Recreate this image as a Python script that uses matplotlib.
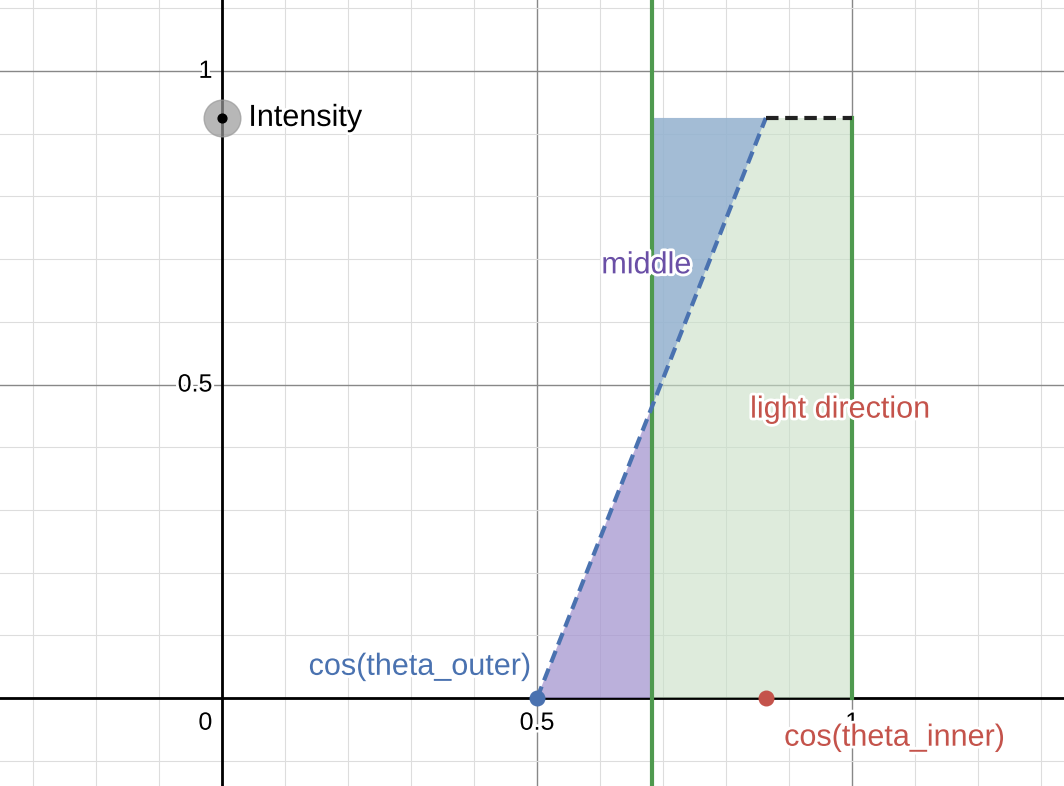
import matplotlib
matplotlib.use("Agg")
import matplotlib.pyplot as plt
import matplotlib.patheffects as pe
import numpy as np

plt.rcParams['font.family'] = ['Liberation Sans', 'DejaVu Sans']

cos_outer = 0.5
cos_inner = 0.863
middle_x = 0.683
intensity = 0.925
light_dir = 1.0

fig = plt.figure(figsize=(10.64, 7.86), dpi=100)
ax = fig.add_axes([0, 0, 1, 1])
ax.set_xlim(-0.352, 1.336)
ax.set_ylim(-0.140, 1.113)
ax.axis("off")

for v in np.arange(-0.3, 1.35, 0.1):
    major = abs(v / 0.5 - round(v / 0.5)) < 1e-6
    ax.axvline(v, color="#888" if major else "#ddd", lw=1.0 if major else 0.8, zorder=0)
for v in np.arange(-0.1, 1.12, 0.1):
    major = abs(v / 0.5 - round(v / 0.5)) < 1e-6
    ax.axhline(v, color="#888" if major else "#ddd", lw=1.0 if major else 0.8, zorder=0)
ax.axhline(0, color="black", lw=2, zorder=1)
ax.axvline(0, color="black", lw=2, zorder=1)

slope = intensity / (cos_inner - cos_outer)
ym = slope * (middle_x - cos_outer)
ax.fill([middle_x, light_dir, light_dir, middle_x], [0, 0, intensity, intensity], color="#c8dfc6", alpha=0.6, lw=0, zorder=2)
ax.fill([middle_x, cos_inner, middle_x], [ym, intensity, intensity], color="#8aa9d3", alpha=0.7, lw=0, zorder=2)
ax.fill([cos_outer, middle_x, middle_x], [0, 0, ym], color="#a596d0", alpha=0.75, lw=0, zorder=2)
ax.axvline(middle_x, color="#4f9a4f", lw=3, zorder=3)
ax.plot([light_dir, light_dir], [0, intensity], color="#4f9a4f", lw=3, zorder=3)
ax.plot([cos_outer, cos_inner], [0, intensity], color="#4a72b0", lw=3, ls=(0, (3, 1.6)), zorder=4)
ax.plot([cos_inner, light_dir], [intensity, intensity], color="#222", lw=3, ls=(0, (3, 1.6)), zorder=4)

ax.scatter([cos_outer], [0], s=110, color="#4a72b0", zorder=5)
ax.scatter([cos_inner], [0], s=110, color="#c4534b", zorder=5)
ax.scatter([0], [intensity], s=700, color="#999", alpha=0.7, zorder=5)
ax.scatter([0], [intensity], s=40, color="black", zorder=6)

halo = [pe.withStroke(linewidth=4, foreground="white")]
fs = 18
ax.text(-0.015, -0.02, "0", fontsize=fs, ha="right", va="top", path_effects=halo, zorder=7)
ax.text(0.5, -0.02, "0.5", fontsize=fs, ha="center", va="top", path_effects=halo, zorder=7)
ax.text(1.0, -0.02, "1", fontsize=fs, ha="center", va="top", path_effects=halo, zorder=7)
ax.text(-0.015, 0.5, "0.5", fontsize=fs, ha="right", va="center", path_effects=halo, zorder=7)
ax.text(-0.015, 1.0, "1", fontsize=fs, ha="right", va="center", path_effects=halo, zorder=7)
ax.text(0.042, intensity, "Intensity", fontsize=22, va="center", path_effects=halo, zorder=7)
ax.text(0.49, 0.05, "cos(theta_outer)", fontsize=22, color="#4a72b0", ha="right", va="center", path_effects=halo, zorder=7)
ax.text(0.892, -0.063, "cos(theta_inner)", fontsize=22, color="#c4534b", va="center", path_effects=halo, zorder=7)
ax.text(0.602, 0.69, "middle", fontsize=22, color="#6a4fa6", va="center", path_effects=halo, zorder=7)
ax.text(0.838, 0.46, "light direction", fontsize=22, color="#c4534b", va="center", path_effects=halo, zorder=7)

fig.savefig("out.png", dpi=100)
